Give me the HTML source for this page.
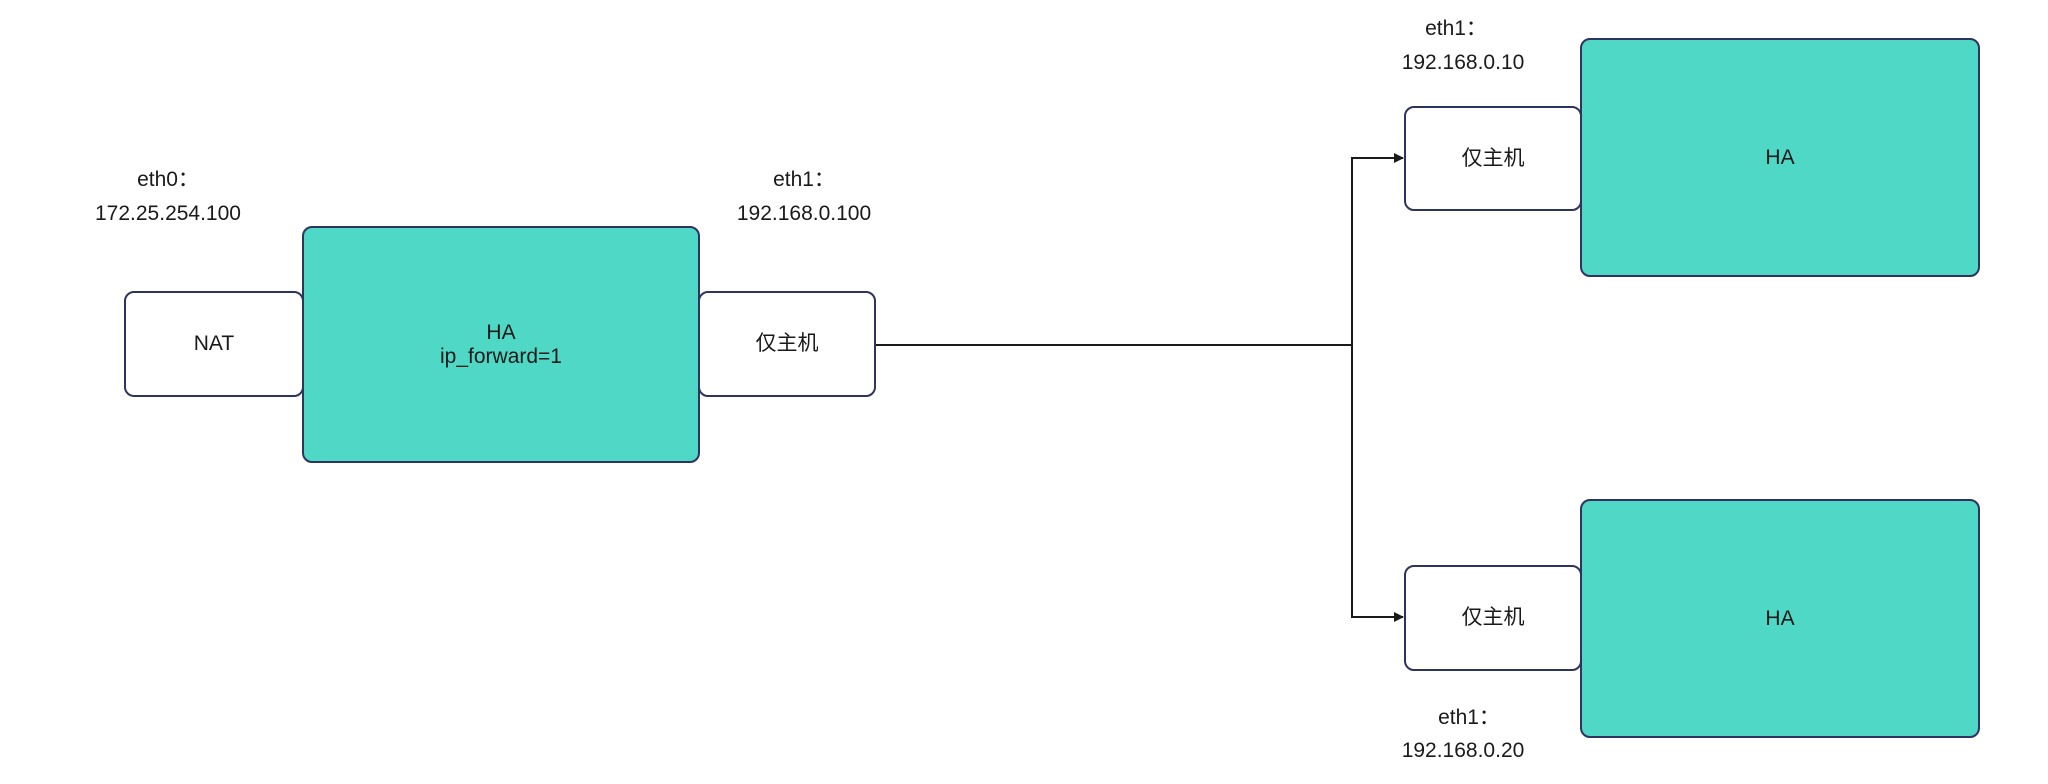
<!DOCTYPE html>
<html><head><meta charset="utf-8"><style>
body{margin:0;background:#fff;width:2048px;height:784px;overflow:hidden;position:relative;font-family:"Liberation Sans","Noto Sans CJK SC",sans-serif;color:#1a1a1a}
.b{position:absolute;box-sizing:border-box;border:2px solid #2e3460;border-radius:10px;display:flex;align-items:center;justify-content:center;text-align:center;font-size:21px;line-height:24px}
.w{background:#fff}.t{background:#4fd8c5}
.l{position:absolute;font-size:21px;text-align:center;width:240px;line-height:24px}
</style></head><body>
<svg width="2048" height="784" style="position:absolute;left:0;top:0">
<defs><marker id="a" markerWidth="10" markerHeight="10" refX="9" refY="5" orient="auto" markerUnits="userSpaceOnUse"><path d="M0,0 L10,5 L0,10z" fill="#1a1a1a"/></marker></defs>
<path d="M875,345 H1352" stroke="#1a1a1a" stroke-width="2" fill="none"/>
<path d="M1352,345 V158 H1403" stroke="#1a1a1a" stroke-width="2" fill="none" marker-end="url(#a)"/>
<path d="M1352,345 V617 H1403" stroke="#1a1a1a" stroke-width="2" fill="none" marker-end="url(#a)"/>
</svg>
<div class="b w" style="left:124px;top:291px;width:180px;height:106px">NAT</div>
<div class="b t" style="left:302px;top:226px;width:398px;height:237px">HA<br>ip_forward=1</div>
<div class="b w" style="left:698px;top:291px;width:178px;height:106px">仅主机</div>
<div class="b w" style="left:1404px;top:106px;width:178px;height:105px">仅主机</div>
<div class="b t" style="left:1580px;top:38px;width:400px;height:239px">HA</div>
<div class="b w" style="left:1404px;top:565px;width:178px;height:106px">仅主机</div>
<div class="b t" style="left:1580px;top:499px;width:400px;height:239px">HA</div>
<div class="l" style="left:48px;top:168px">eth0：</div>
<div class="l" style="left:48px;top:202px">172.25.254.100</div>
<div class="l" style="left:684px;top:168px">eth1：</div>
<div class="l" style="left:684px;top:202px">192.168.0.100</div>
<div class="l" style="left:1336px;top:17px">eth1：</div>
<div class="l" style="left:1343px;top:51px">192.168.0.10</div>
<div class="l" style="left:1349px;top:706px">eth1：</div>
<div class="l" style="left:1343px;top:739px">192.168.0.20</div>
</body></html>
